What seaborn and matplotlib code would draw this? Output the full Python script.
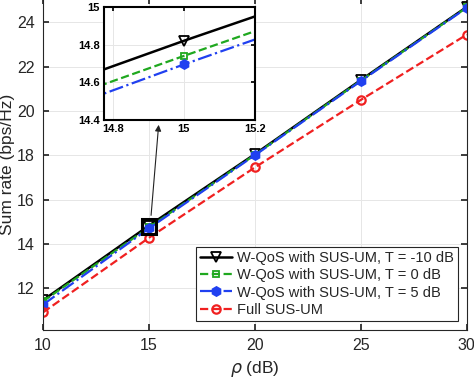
import matplotlib
matplotlib.use("Agg")
import matplotlib.pyplot as plt
import seaborn as sns
import pandas as pd
from matplotlib.patches import Rectangle

rho = [10, 15, 20, 25, 30]
wqos_m10 = [11.45, 14.82, 18.05, 21.40, 24.70]
wqos_0 = [11.40, 14.74, 18.02, 21.37, 24.68]
wqos_5 = [11.25, 14.695, 18.00, 21.35, 24.66]
full_sus = [10.90, 14.27, 17.45, 20.50, 23.45]

labels = ["W-QoS with SUS-UM, T = -10 dB",
          "W-QoS with SUS-UM, T = 0 dB",
          "W-QoS with SUS-UM, T = 5 dB",
          "Full SUS-UM"]
xticks = [10, 15, 20, 25, 30]
yticks = [12, 14, 16, 18, 20, 22, 24]
inset_xticks = [14.8, 15, 15.2]
inset_yticks = [14.4, 14.6, 14.8, 15]

sns.set_theme(style="whitegrid")
plt.rcParams['font.family'] = ['Liberation Sans', 'DejaVu Sans']

series = [wqos_m10, wqos_0, wqos_5, full_sus]
styles = [
    dict(color="black", ls="-", marker="v", mfc="none", mec="black", ms=7, lw=1.8),
    dict(color="#1fa81f", ls="--", marker="s", mfc="none", mec="#1fa81f", ms=5, lw=1.6),
    dict(color="#2040f0", ls="-.", marker="h", mfc="#2040f0", mec="#2040f0", ms=6.5, lw=1.6),
    dict(color="#f02020", ls="--", marker="o", mfc="none", mec="#f02020", ms=6, lw=1.6, mew=1.6),
]

df = pd.concat([pd.DataFrame({"rho": rho, "rate": s, "series": l}) for s, l in zip(series, labels)])

fig = plt.figure(figsize=(4.74, 3.79), dpi=100)
ax = fig.add_axes([0.0907, 0.129, 0.894, 0.876])

def draw(a, legend=False):
    for l, st in zip(labels, styles):
        st = dict(st)
        sns.lineplot(data=df[df.series == l], x="rho", y="rate", ax=a,
                     color=st.pop("color"), linestyle=st.pop("ls"),
                     linewidth=st.pop("lw"), marker=st.pop("marker"),
                     markerfacecolor=st.pop("mfc"), markeredgecolor=st.pop("mec"),
                     markersize=st.pop("ms"), markeredgewidth=st.pop("mew", 1.3),
                     label=l if legend else None, legend=legend, errorbar=None)

draw(ax, legend=True)
ax.set_xlim(10, 30)
ax.set_ylim(10.1, 25.1)
ax.set_xticks(xticks)
ax.set_yticks(yticks)
ax.tick_params(direction="in", length=4, labelsize=11.5, colors="#262626",
               top=True, right=True, bottom=True, left=True, pad=6)
for sp in ax.spines.values():
    sp.set_color("#262626")
    sp.set_linewidth(0.8)
ax.grid(True, color="#e6e6e6", linewidth=0.7)
ax.set_xlabel(r"$\rho$ (dB)", fontsize=12.5, color="#262626", labelpad=4)
ax.set_ylabel("Sum rate (bps/Hz)", fontsize=12.5, color="#262626", labelpad=1)

leg = ax.legend(loc="lower right", bbox_to_anchor=(0.979, 0.027), fontsize=10.5,
                frameon=True, fancybox=False, edgecolor="#262626",
                framealpha=1, borderpad=0.3, labelspacing=0.22,
                handlelength=2.2, handletextpad=0.3, borderaxespad=0)
leg.get_frame().set_linewidth(0.8)

ax.add_patch(Rectangle((14.65, 14.42), 0.7, 0.72, fill=False, edgecolor="black", lw=2.2, zorder=5))
ax.annotate("", xy=(15.47, 19.5), xytext=(15.09, 15.16),
            arrowprops=dict(arrowstyle="-|>", color="#222222", lw=0.8, mutation_scale=9))

axin = fig.add_axes([0.219, 0.683, 0.319, 0.299])
draw(axin)
axin.set_xlim(14.775, 15.2)
axin.set_ylim(14.4, 15.0)
axin.set_xticks(inset_xticks)
axin.set_yticks(inset_yticks)
axin.set_xticklabels(["14.8", "15", "15.2"])
axin.set_yticklabels(["14.4", "14.6", "14.8", "15"])
axin.set_xlabel("")
axin.set_ylabel("")
axin.tick_params(direction="in", length=3, labelsize=8, colors="black", pad=3,
                 top=True, right=True)
for t in axin.get_xticklabels() + axin.get_yticklabels():
    t.set_fontweight("bold")
for sp in axin.spines.values():
    sp.set_color("black")
    sp.set_linewidth(1.5)
axin.grid(True, color="#e6e6e6", linewidth=0.7)
axin.set_facecolor("white")

fig.savefig("out.png", dpi=100)
